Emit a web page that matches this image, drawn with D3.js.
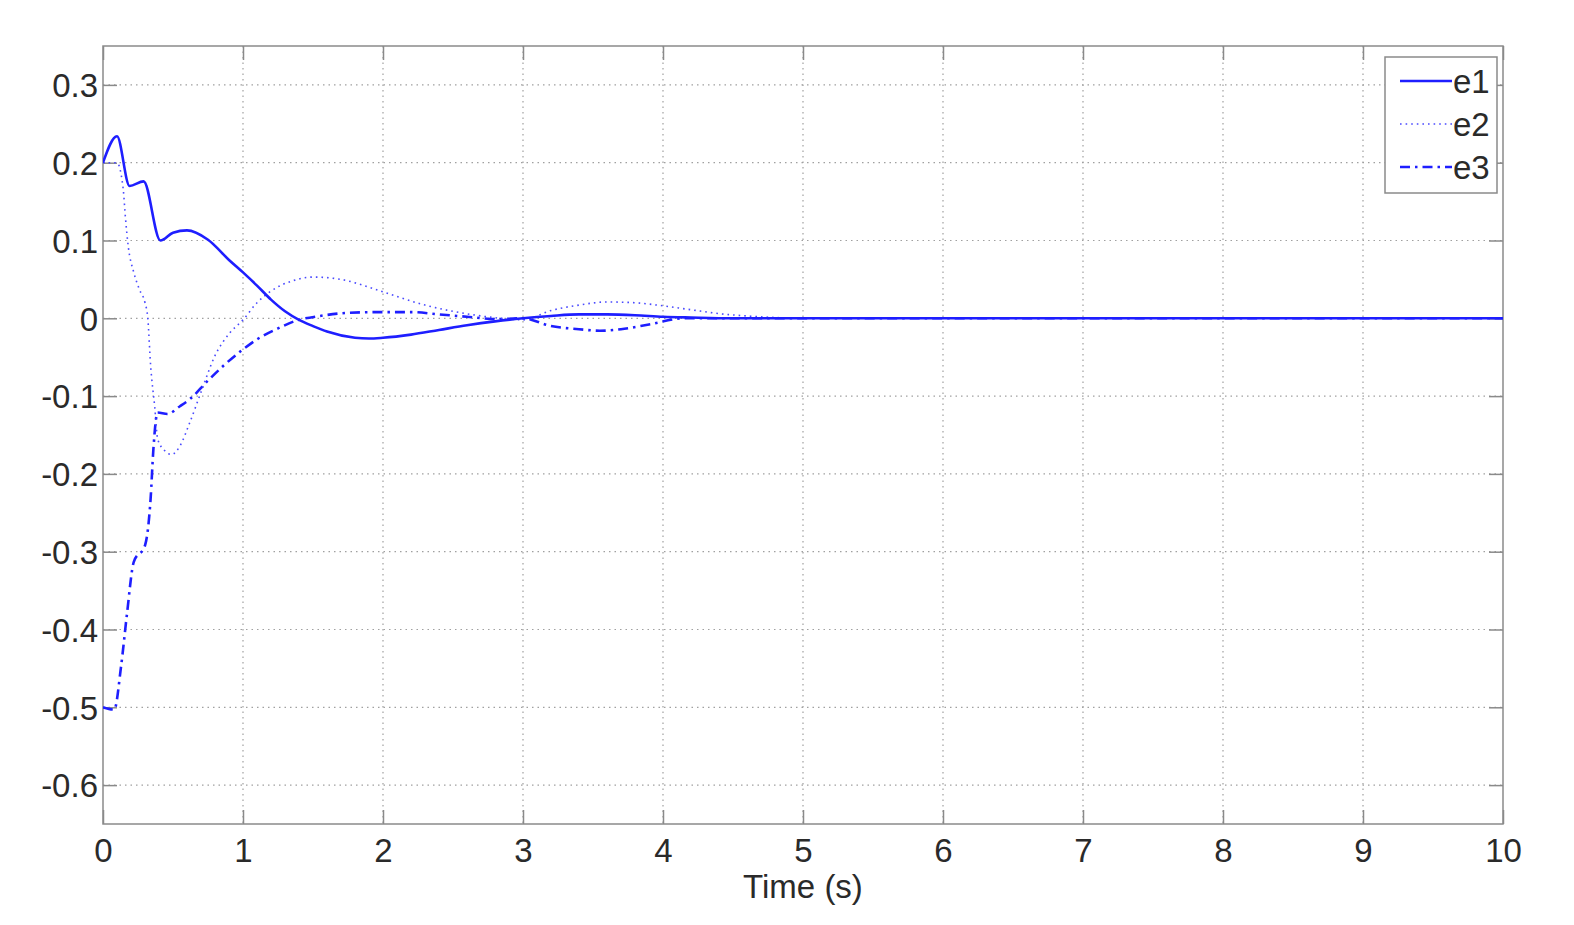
<!DOCTYPE html>
<html><head><meta charset="utf-8">
<script src="https://cdn.jsdelivr.net/npm/d3@7"></script>
<style>
html,body{margin:0;padding:0;background:#fff;}
svg{display:block;}
text{font-family:"Liberation Sans",Arial,sans-serif;}
</style></head>
<body>
<script>
// ---- data ----
const xTicks = [0,1,2,3,4,5,6,7,8,9,10];
const yTicks = [0.3,0.2,0.1,0,-0.1,-0.2,-0.3,-0.4,-0.5,-0.6];
const yTickLabels = ["0.3","0.2","0.1","0","-0.1","-0.2","-0.3","-0.4","-0.5","-0.6"];
const seriesNames = ["e1","e2","e3"];

const e1Time = [0,0.1,0.19,0.29,0.41,0.5,0.6,0.75,0.9,1.0,1.1,1.2,1.3,1.4,1.5,1.6,1.8,1.9,2.0,2.2,2.4,2.6,2.8,3.0,3.2,3.4,3.6,3.8,4.0,4.2,4.5,5,6,7,8,9,10];
const e1Vals = [0.2,0.234,0.17,0.176,0.1,0.11,0.113,0.101,0.075,0.059,0.042,0.024,0.009,-0.002,-0.01,-0.017,-0.025,-0.026,-0.025,-0.021,-0.015,-0.009,-0.004,0.0,0.003,0.005,0.005,0.004,0.002,0.001,0,0,0,0,0,0,0];

const e2Time = [0,0.1,0.145,0.16,0.18,0.22,0.26,0.3,0.32,0.34,0.37,0.39,0.44,0.49,0.55,0.62,0.7,0.8,0.9,1.0,1.1,1.2,1.35,1.5,1.7,1.9,2.1,2.3,2.5,2.7,2.9,3.0,3.2,3.4,3.6,3.8,4.0,4.2,4.4,4.6,4.8,5,6,10];
const e2Vals = [0.2,0.2,0.165,0.13,0.093,0.059,0.037,0.02,0.0,-0.06,-0.115,-0.155,-0.17,-0.175,-0.164,-0.134,-0.095,-0.048,-0.02,-0.002,0.02,0.035,0.048,0.053,0.05,0.04,0.028,0.017,0.009,0.003,-0.001,-0.002,0.01,0.017,0.021,0.02,0.016,0.011,0.006,0.003,0.001,0,0,0];

const e3Time = [0,0.08,0.13,0.17,0.22,0.3,0.34,0.36,0.39,0.46,0.55,0.62,0.75,0.86,1.0,1.1,1.25,1.38,1.55,1.75,2.0,2.2,2.4,2.6,2.8,3.0,3.2,3.4,3.55,3.7,3.9,4.15,4.5,5,10];
const e3Vals = [-0.5,-0.503,-0.446,-0.382,-0.313,-0.292,-0.232,-0.168,-0.121,-0.123,-0.113,-0.104,-0.08,-0.061,-0.04,-0.027,-0.013,-0.003,0.003,0.007,0.008,0.008,0.005,0.002,-0.001,0,-0.01,-0.014,-0.016,-0.014,-0.008,0,0,0,0];

const xLabel = "Time (s)";

// ---- layout ----
const W = 1574, H = 925;
const L = 103, R = 1503, T = 46, B = 824;
const FS = "33px";
const svg = d3.select("body").append("svg").attr("width", W).attr("height", H);

const x = d3.scaleLinear().domain([0,10]).range([L,R]);
const y = d3.scaleLinear().domain([-0.65,0.35]).range([B,T]);

const axisCol = "#8a8a8a", gridCol = "#a0a0a0", textCol = "#2a2a2a";

// grid
const grid = svg.append("g");
grid.selectAll("line.vx").data(xTicks.slice(1,-1)).join("line")
  .attr("x1", d=>x(d)).attr("x2", d=>x(d)).attr("y1", T).attr("y2", B)
  .attr("stroke", gridCol).attr("stroke-width", 1.2).attr("stroke-dasharray", "1.5,4");
grid.selectAll("line.hy").data(yTicks).join("line")
  .attr("x1", L).attr("x2", R).attr("y1", d=>y(d)).attr("y2", d=>y(d))
  .attr("stroke", gridCol).attr("stroke-width", 1.2).attr("stroke-dasharray", "1.5,4");

// axes using d3 axis generators (ticks inward)
const gB = svg.append("g").attr("transform", `translate(0,${B})`)
  .call(d3.axisBottom(x).tickValues(xTicks).tickSize(-14).tickFormat(d=>String(d)));
const gT = svg.append("g").attr("transform", `translate(0,${T})`)
  .call(d3.axisTop(x).tickValues(xTicks).tickSize(-14).tickFormat(""));
const gL = svg.append("g").attr("transform", `translate(${L},0)`)
  .call(d3.axisLeft(y).tickValues(yTicks).tickSize(-14).tickPadding(5).tickFormat((d,i)=>yTickLabels[i]));
const gR = svg.append("g").attr("transform", `translate(${R},0)`)
  .call(d3.axisRight(y).tickValues(yTicks).tickSize(-14).tickFormat(""));
[gB,gT,gL,gR].forEach(g=>{
  g.select(".domain").remove();
  g.selectAll(".tick line").attr("stroke", axisCol).attr("stroke-width", 1.5);
  g.selectAll("text").attr("fill", textCol).style("font-size",FS).style("font-family","'Liberation Sans',Arial,sans-serif");
});
gB.selectAll("text").attr("dy", null).attr("y", 38);
gL.selectAll("text").attr("x", -5).attr("dy", "0.36em");
svg.append("rect").attr("x", L).attr("y", T).attr("width", R-L).attr("height", B-T)
  .attr("fill","none").attr("stroke", axisCol).attr("stroke-width", 1.5);

svg.append("text").attr("x", 803).attr("y", 898).attr("text-anchor","middle")
  .attr("fill", textCol).style("font-size",FS).text(xLabel);

// lines
const styles = {
  e1: {stroke:"#1e1eff", width:2.6, dash:null},
  e2: {stroke:"#4a4aff", width:1.6, dash:"1.6,4"},
  e3: {stroke:"#1e1eff", width:2.6, dash:"10,5,2.5,5"}
};
const series = [
  {name:"e1", t:e1Time, v:e1Vals},
  {name:"e2", t:e2Time, v:e2Vals},
  {name:"e3", t:e3Time, v:e3Vals}
];
const line = d3.line().x(d=>x(d[0])).y(d=>y(d[1])).curve(d3.curveMonotoneX);
svg.append("clipPath").attr("id","pc").append("rect")
  .attr("x",L).attr("y",T).attr("width",R-L).attr("height",B-T);
const lg = svg.append("g").attr("clip-path","url(#pc)");
[series[2], series[1], series[0]].forEach(s=>{
  const st = styles[s.name];
  lg.append("path").datum(s.t.map((t,i)=>[t,s.v[i]]))
    .attr("d", line).attr("fill","none")
    .attr("stroke", st.stroke).attr("stroke-width", st.width)
    .attr("stroke-dasharray", st.dash).attr("stroke-linejoin","round");
});

// legend
const leg = svg.append("g");
leg.append("rect").attr("x",1385).attr("y",57).attr("width",112).attr("height",136)
  .attr("fill","#fff").attr("stroke", axisCol).attr("stroke-width",1.5);
seriesNames.forEach((n,i)=>{
  const st = styles[n];
  const ly = 81 + i*43;
  leg.append("line").attr("x1",1400).attr("x2",1452).attr("y1",ly).attr("y2",ly)
    .attr("stroke",st.stroke).attr("stroke-width",st.width).attr("stroke-dasharray",st.dash);
  leg.append("text").attr("x",1453).attr("y",ly+12).attr("fill",textCol)
    .style("font-size",FS).text(n);
});
</script>
</body></html>
